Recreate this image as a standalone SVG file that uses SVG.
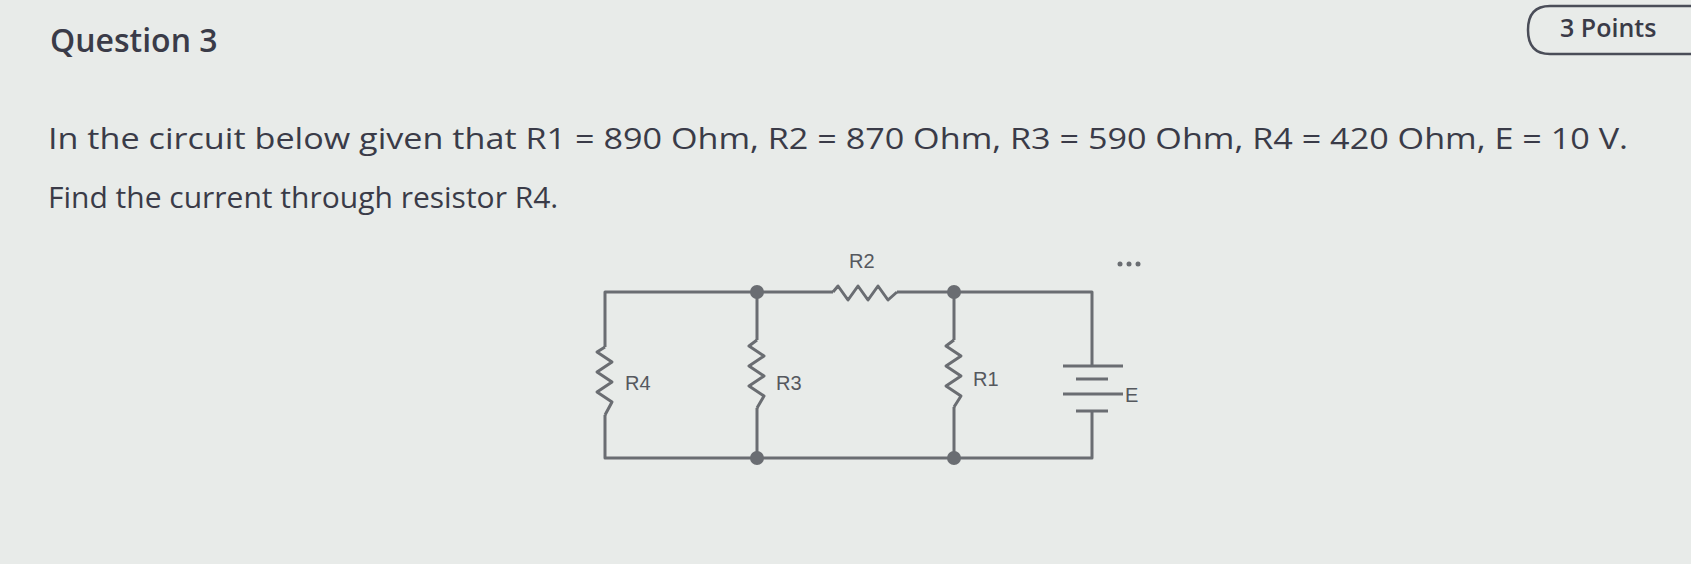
<svg xmlns="http://www.w3.org/2000/svg" width="1691" height="564" viewBox="0 0 1691 564">
<style>
.t{font-family:"Open Sans","Liberation Sans",sans-serif;fill:#3a3b48}
.l{font-family:"Liberation Sans",Arial,sans-serif;fill:#55585e;font-size:20px}
.w{fill:none;stroke:#6a6d72;stroke-width:3;stroke-linejoin:round}
.d{fill:#6a6d72}
</style>
<rect width="1691" height="564" fill="#e8ebe9"/>
<g id="header">
<text class="t" x="50" y="52" font-size="32" font-weight="600">Question 3</text>
<path d="M1691,6 H1550 Q1528,6 1528,30 Q1528,54 1550,54 H1691" fill="none" stroke="#4a4d58" stroke-width="2.5"/>
<text class="t" x="1560" y="37" font-size="25" font-weight="600" fill="#4a4e78">3 Points</text>
</g>
<g id="body">
<text class="t" x="48" y="149" font-size="30" textLength="1580" lengthAdjust="spacingAndGlyphs">In the circuit below given that R1 = 890 Ohm, R2 = 870 Ohm, R3 = 590 Ohm, R4 = 420 Ohm, E = 10 V.</text>
<text class="t" x="48" y="208" font-size="30">Find the current through resistor R4.</text>
</g>
<g id="connectors">
<path class="w" d="M605,347 V292 H833 M897,292 H1092 V366 M1092,411 V458 H605 V415"/>
<path class="w" d="M757,292 V340 M757,408 V458 M954,292 V340 M954,407 V458"/>
</g>
<g id="R2"><path class="w" d="M833,292 L838,286 L848,300 L858,286 L868,300 L878,286 L888,300 L897,292"/><text class="l" x="849" y="268">R2</text></g>
<g id="R4"><path class="w" d="M605,347 L597,352 L612,362 L597,372 L612,382 L597,392 L612,402 L605,415"/><text class="l" x="625" y="390">R4</text></g>
<g id="R3"><path class="w" d="M757,340 L749,346 L764,356 L749,366 L764,376 L749,386 L764,396 L757,408"/><text class="l" x="776" y="390">R3</text></g>
<g id="R1"><path class="w" d="M954,340 L946,346 L961,356 L946,366 L961,376 L946,386 L961,396 L954,407"/><text class="l" x="973" y="386">R1</text></g>
<g id="E"><path class="w" d="M1063,366 H1123 M1076,379 H1108 M1063,394 H1123 M1076,411 H1108"/><text class="l" x="1125" y="402">E</text></g>
<g id="nodes">
<circle class="d" cx="757" cy="292" r="7"/><circle class="d" cx="954" cy="292" r="7"/>
<circle class="d" cx="757" cy="458" r="7"/><circle class="d" cx="954" cy="458" r="7"/>
</g>
<g id="menu"><circle class="d" cx="1120" cy="264" r="2.5"/><circle class="d" cx="1129" cy="264" r="2.5"/><circle class="d" cx="1138" cy="264" r="2.5"/></g>
</svg>
